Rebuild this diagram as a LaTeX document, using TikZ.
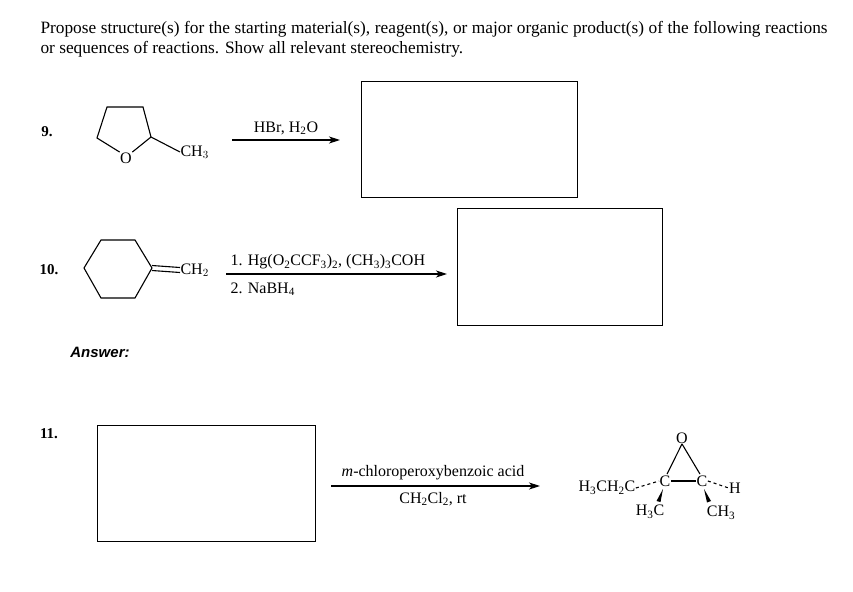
\documentclass[tikz,border=0pt]{standalone}
\usepackage{fontspec}
\setmainfont{Liberation Serif}
\usetikzlibrary{arrows.meta}
\begin{document}
\begin{tikzpicture}[x=1pt,y=-1pt,line width=1.1pt,
  lbl/.style={inner sep=0pt,font=\fontsize{16}{18}\selectfont},
  ansbox/.style={draw,line width=1pt},
  rxn/.style={-{Stealth[length=11pt,width=7pt,inset=3pt]},line width=1.1pt}]
\useasboundingbox (0,0) rectangle (853,591);
\node[anchor=north west,inner sep=0pt,text width=787pt,align=justify,font=\fontsize{17.3}{20}\selectfont] (title) at (40,21)
 {\hyphenpenalty=10000 Propose structure(s) for the starting material(s), reagent(s), or major organic product(s) of the following reactions or sequences of reactions. Show all relevant stereochemistry.};
% 9
\node[lbl,font=\fontsize{15}{16}\bfseries] (n9) at (47,132) {9.};
\coordinate (a1) at (107,107); \coordinate (a2) at (143,107); \coordinate (a3) at (151,137);
\coordinate (a5) at (97,138);
\node[lbl] (o9) at (126,158) {O};
\draw (o9.north west) -- (a5) -- (a1) -- (a2) -- (a3) -- (o9.north east);
\node[lbl,anchor=west] (ch9) at (180,152) {CH$_3$};
\draw (a3) -- (ch9.west);
\coordinate (r9s) at (232,140); \coordinate (r9e) at (340,140);
\draw[rxn] (r9s) -- (r9e);
\node[lbl] (l9) at (286,128) {HBr, H\textsubscript{2}O};
\node[ansbox,minimum width=216pt,minimum height=116pt,anchor=north west] (b9) at (361,81) {};
% 10
\node[lbl,font=\fontsize{15}{16}\bfseries] (n10) at (49,270) {10.};
\coordinate (h1) at (84,268); \coordinate (h2) at (101,240); \coordinate (h3) at (135,240);
\coordinate (h4) at (152,268); \coordinate (h5) at (135,298); \coordinate (h6) at (101,298);
\draw (h1)--(h2)--(h3)--(h4)--(h5)--(h6)--cycle;
\node[lbl,anchor=west] (ch10) at (180,270) {CH$_2$};
\draw ([yshift=-2.5pt]h4) -- ([yshift=-2.5pt]ch10.west);
\draw ([yshift=2.5pt]h4) -- ([yshift=2.5pt]ch10.west);
\coordinate (r10s) at (226,274); \coordinate (r10e) at (447,274);
\draw[rxn] (r10s) -- (r10e);
\node[lbl,anchor=west] (l10a) at (230,262) {1. Hg(O\textsubscript{2}CCF\textsubscript{3})\textsubscript{2}, (CH\textsubscript{3})\textsubscript{3}COH};
\node[lbl,anchor=west] (l10b) at (230,289) {2. NaBH\textsubscript{4}};
\node[ansbox,minimum width=205pt,minimum height=117pt,anchor=north west] (b10) at (457,208) {};
\node[lbl,font=\fontsize{15}{16}\bfseries\itshape\fontspec{Liberation Sans}] (ans) at (100,352) {Answer:};
% 11
\node[lbl,font=\fontsize{15}{16}\bfseries] (n11) at (49,434) {11.};
\node[ansbox,minimum width=218pt,minimum height=116pt,anchor=north west] (b11) at (97,425) {};
\coordinate (r11s) at (331,486); \coordinate (r11e) at (540,486);
\draw[rxn] (r11s) -- (r11e);
\node[lbl] (l11a) at (433,473) {\textit{m}-chloroperoxybenzoic acid};
\node[lbl] (l11b) at (433,499) {CH\textsubscript{2}Cl\textsubscript{2}, rt};
\node[lbl] (po) at (682,438) {O};
\node[lbl] (cl) at (665,481) {C};
\node[lbl] (cr) at (702,481) {C};
\node[lbl] (et) at (607,488) {H\textsubscript{3}CH\textsubscript{2}C};
\node[lbl] (hh) at (735,488) {H};
\node[lbl] (me1) at (650,512) {H\textsubscript{3}C};
\node[lbl] (me2) at (721,513) {CH\textsubscript{3}};
\draw (cl.north) ++(2,-1) -- (po.south);
\draw (cr.north) ++(-2,-1) -- (po.south);
\draw (cl.east) -- (cr.west);
\draw[dashed,dash pattern=on 3pt off 3pt] (et.east) -- (cl.west);
\draw[dashed,dash pattern=on 3pt off 3pt] (cr.east) -- (hh.west);
\fill (663,489) -- (660.5,502) -- (656.5,501) -- cycle;
\fill (704,489) -- (711,501) -- (707,502.5) -- cycle;
\end{tikzpicture}
\end{document}
